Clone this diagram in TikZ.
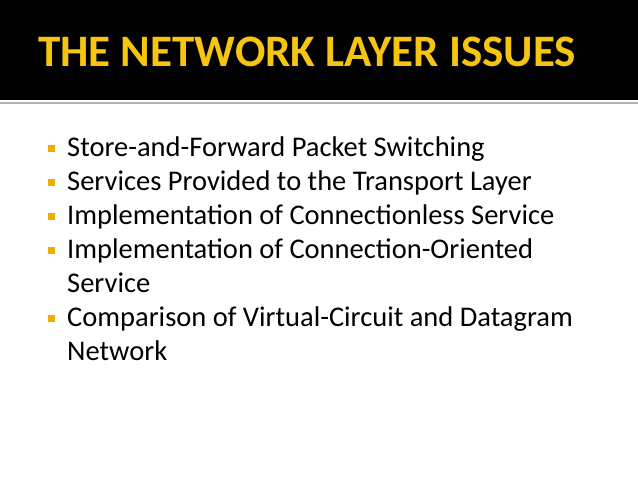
\documentclass[tikz,border=0pt]{standalone}
\usepackage{fontspec}
\setmainfont{Carlito}
\begin{document}
\begin{tikzpicture}[x=1pt,y=-1pt,
  bul/.style={fill=bulcol,minimum size=7pt,inner sep=0pt},
  item/.style={anchor=base west,inner sep=0pt,font=\fontsize{28.5}{34}\selectfont}]
\definecolor{bulcol}{HTML}{EEAC00}
\definecolor{titcol}{HTML}{F5C510}
\useasboundingbox (0,0) rectangle (638,478);
\fill[white] (0,0) rectangle (638,478);
\fill[black] (0,0) rectangle (638,100);
\fill[gray!60] (0,102.5) rectangle (638,104.5);
\node[anchor=base,inner sep=0pt,text=titcol,font=\fontsize{45}{48}\selectfont\bfseries] (title) at (307,67) {THE NETWORK LAYER ISSUES};
\foreach \t/\y [count=\i] in {Store-and-Forward Packet Switching/157,Services Provided to the Transport Layer/191,Implementation of Connectionless Service/225,Implementation of Connection-Oriented/259,Comparison of Virtual-Circuit and Datagram/327}{
  \node[item] (t\i) at (67,\y) {\t};
  \node[bul] (b\i) at (51.5,\y-8) {};
}
\node[item] (t4b) at (67,293) {Service};
\node[item] (t5b) at (67,361) {Network};
\end{tikzpicture}
\end{document}
